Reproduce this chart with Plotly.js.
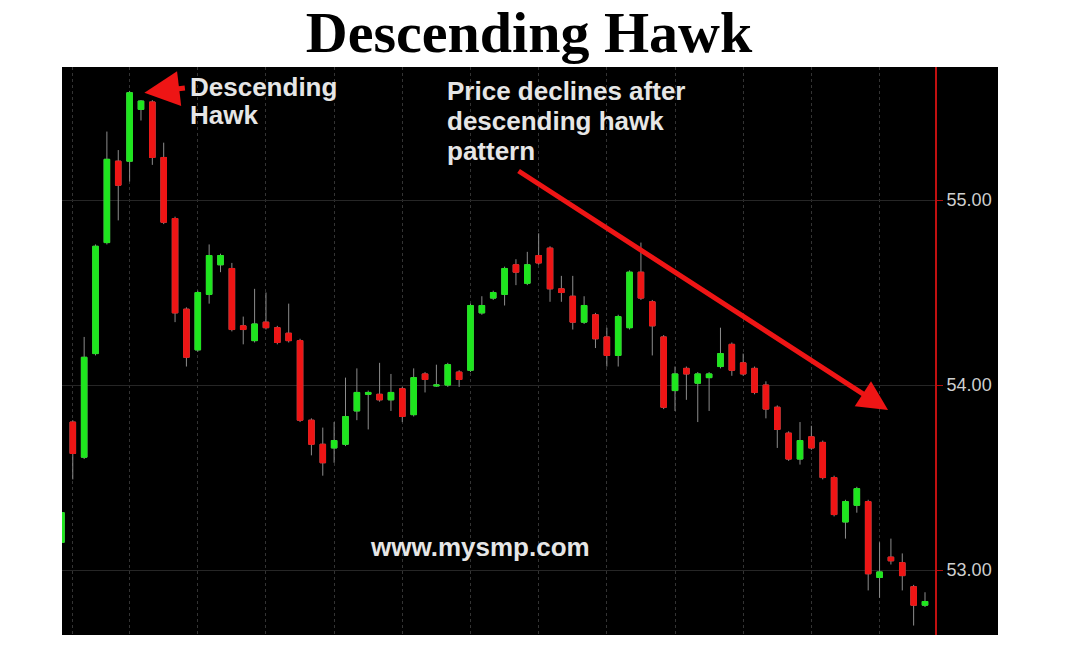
<!DOCTYPE html>
<html>
<head>
<meta charset="utf-8">
<script src="https://cdn.plot.ly/plotly-3.0.1.min.js"></script>
<style>
  body { margin: 0; background: #fff; }
  #plot { width: 1080px; height: 660px; }
</style>
</head>
<body>
<div id="plot"></div>
<script>
// daily candles, oldest first
var opens = [53.15,53.80,53.61,54.17,54.77,55.21,55.21,55.49,55.53,55.23,
  54.90,54.41,54.19,54.49,54.65,54.63,54.32,54.24,54.34,54.31,
  54.28,54.24,53.81,53.68,53.66,53.68,53.86,53.95,53.95,53.92,
  53.98,53.84,54.06,53.995,54.00,54.07,54.08,54.39,54.47,54.49,
  54.65,54.55,54.70,54.74,54.52,54.48,54.34,54.38,54.26,54.16,
  54.31,54.61,54.45,54.26,53.97,54.09,54.01,54.04,54.10,54.22,
  54.12,54.09,54.00,53.88,53.74,53.60,53.72,53.69,53.50,53.26,
  53.35,53.37,52.96,53.07,53.04,52.91,52.81];
var closes = [53.31,53.63,54.15,54.75,55.22,55.08,55.58,55.535,55.23,54.88,
  54.39,54.15,54.50,54.70,54.70,54.30,54.30,54.33,54.31,54.23,
  54.24,53.81,53.68,53.58,53.70,53.83,53.96,53.96,53.92,53.96,
  53.83,54.04,54.03,54.00,54.11,54.03,54.43,54.43,54.50,54.63,
  54.61,54.65,54.66,54.52,54.50,54.34,54.43,54.25,54.16,54.37,
  54.61,54.47,54.32,53.88,54.06,54.06,54.06,54.06,54.17,54.08,
  54.06,53.96,53.87,53.76,53.60,53.70,53.66,53.50,53.30,53.37,
  53.44,52.98,52.99,53.05,52.97,52.81,52.83];
var highs = [53.33,53.81,54.26,54.76,55.37,55.27,55.59,55.54,55.54,55.31,
  54.91,54.42,54.51,54.76,54.71,54.66,54.37,54.52,54.50,54.32,
  54.44,54.25,53.82,53.77,53.80,54.04,54.09,53.97,54.12,54.06,
  53.99,54.09,54.07,54.11,54.12,54.08,54.44,54.48,54.51,54.64,
  54.68,54.72,54.82,54.75,54.59,54.59,54.48,54.39,54.31,54.38,
  54.62,54.77,54.46,54.27,54.10,54.10,54.07,54.07,54.31,54.23,
  54.17,54.10,54.02,53.89,53.75,53.80,53.78,53.70,53.51,53.38,
  53.45,53.38,53.15,53.17,53.09,52.92,52.88];
var lows = [53.12,53.49,53.60,54.16,54.76,54.89,55.10,55.43,55.19,54.87,
  54.34,54.10,54.18,54.44,54.61,54.29,54.22,54.23,54.30,54.22,
  54.23,53.80,53.62,53.51,53.58,53.67,53.81,53.76,53.91,53.86,
  53.80,53.83,53.96,53.99,53.99,53.99,54.07,54.38,54.46,54.43,
  54.54,54.54,54.65,54.45,54.45,54.30,54.33,54.20,54.10,54.10,
  54.30,54.46,54.16,53.87,53.86,53.92,53.80,53.86,54.09,54.05,
  54.05,53.95,53.82,53.66,53.59,53.57,53.65,53.49,53.29,53.17,
  53.31,52.89,52.85,53.03,52.89,52.70,52.80];
var priceTicks = [53, 54, 55];
var gridDays = [1, 6, 12, 18, 24, 30, 36, 42, 48, 54, 60, 66, 72];

var days = [];
for (i = 0; i < opens.length; i++) {
  days.push(i);
}

var upColor = "#1ee61e";
var downColor = "#ee1515";

// gray wicks first, coloured bodies drawn over them
var wicks = {
  type: "candlestick",
  x: days, open: opens, high: highs, low: lows, close: closes,
  increasing: { line: { color: "#8c8c8c", width: 1 }, fillcolor: "#8c8c8c" },
  decreasing: { line: { color: "#8c8c8c", width: 1 }, fillcolor: "#8c8c8c" },
  hoverinfo: "skip", showlegend: false
};

var bodies = {
  type: "candlestick",
  x: days, open: opens, close: closes,
  high: opens.map(function (o, i) { return Math.max(o, closes[i]); }),
  low: opens.map(function (o, i) { return Math.min(o, closes[i]); }),
  increasing: { line: { color: upColor, width: 1 }, fillcolor: upColor },
  decreasing: { line: { color: downColor, width: 1 }, fillcolor: downColor },
  hoverinfo: "skip", showlegend: false
};

var noteFont = { family: "Liberation Sans", size: 26, weight: "bold", color: "#e6e6e6" };

// one annotation per text line so the lines sit as tight as in the picture
function noteLine(text, px, py) {
  return {
    text: text, xref: "paper", yref: "paper",
    x: (px - 62) / 873, y: (635 - py) / 568,
    xanchor: "left", yanchor: "middle", align: "left",
    showarrow: false, font: noteFont
  };
}

var layout = {
  width: 1080, height: 660,
  margin: { l: 62, r: 145, t: 67, b: 25 },
  paper_bgcolor: "#ffffff",
  plot_bgcolor: "#000000",
  title: {
    text: "Descending Hawk",
    font: { family: "Liberation Serif", size: 58, weight: "bold", color: "#000000" },
    x: 529 / 1080, xanchor: "center",
    y: 1 - 32 / 660, yanchor: "middle", yref: "container"
  },
  xaxis: {
    range: [0.05, 76.88],
    rangeslider: { visible: false },
    showticklabels: false, ticks: "",
    tickvals: gridDays,
    showgrid: true, gridcolor: "#333333", griddash: "dot", gridwidth: 1,
    zeroline: false, showline: false, fixedrange: true
  },
  yaxis: {
    side: "right",
    range: [52.649, 55.719],
    tickvals: priceTicks, tickformat: ".2f",
    ticks: "outside", ticklen: 6, tickcolor: "#b01010",
    tickfont: { family: "Liberation Sans", size: 18, color: "#cfcfcf" },
    showgrid: true, gridcolor: "#262626", gridwidth: 1,
    showline: true, linecolor: "#c01010", linewidth: 2,
    zeroline: false, fixedrange: true
  },
  shapes: [{
    type: "rect", xref: "paper", yref: "paper",
    x0: 0, x1: (998 - 62) / 873, y0: 0, y1: 1,
    fillcolor: "#000000", line: { width: 0 }, layer: "below"
  }],
  annotations: [
    noteLine("Descending", 188, 87),
    noteLine("Hawk", 188, 115),
    noteLine("Price declines after", 445, 91),
    noteLine("descending hawk", 445, 121),
    noteLine("pattern", 445, 151),
    {
      text: "", x: 7.3, y: 55.58, xref: "x", yref: "y",
      showarrow: true, ax: 42, ay: -5, arrowhead: 2, arrowsize: 1.4,
      arrowwidth: 5, arrowcolor: "#ee1515"
    },
    {
      text: "", x: 72.75, y: 53.865, xref: "x", yref: "y",
      showarrow: true, ax: -371, ay: -240, arrowhead: 2, arrowsize: 1.2,
      arrowwidth: 5, arrowcolor: "#ee1515"
    },
    {
      text: "www.mysmp.com", xref: "paper", yref: "paper",
      x: (480 - 62) / 873, y: (635 - 547) / 568, xanchor: "center", yanchor: "middle",
      showarrow: false,
      font: { family: "Liberation Sans", size: 26, weight: "bold", color: "#e6e6e6" }
    }
  ]
};

Plotly.newPlot("plot", [wicks, bodies], layout, { displayModeBar: false, staticPlot: true });
</script>
</body>
</html>
